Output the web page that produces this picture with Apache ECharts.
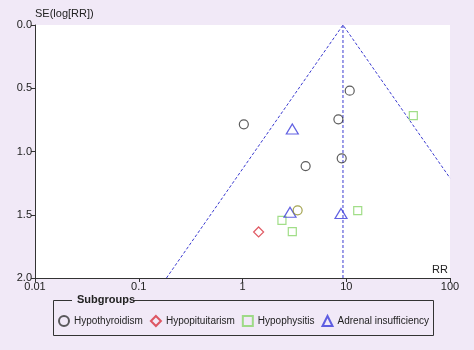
<!DOCTYPE html>
<html>
<head>
<meta charset="utf-8">
<script src="https://cdn.jsdelivr.net/npm/echarts@6/dist/echarts.min.js"></script>
<style>
html,body{margin:0;padding:0;background:#f1e9f7;}
#main{width:474px;height:350px;}
</style>
</head>
<body>
<div id="main"></div>
<script>
// x = RR (log scale), y = SE(log[RR])
var hypothyroidismRR = [1.03, 4.06, 10.8, 8.4, 9.04, 3.40];
var hypothyroidismSE = [0.785, 1.115, 0.519, 0.746, 1.054, 1.465];
var hypopituitarismRR = [1.43];
var hypopituitarismSE = [1.636];
var hypophysitisRR = [2.40, 3.02, 12.9, 44.3];
var hypophysitisSE = [1.544, 1.634, 1.468, 0.717];
var adrenalRR = [3.02, 2.87, 8.9];
var adrenalSE = [0.822, 1.48, 1.49];
// funnel (pseudo 95% limits) and pooled estimate line
var funnelRR = [0.185, 9.3, 100];
var funnelSE = [2.0, 0.0, 1.21];
var centerRR = [9.3, 9.3];
var centerSE = [0.0, 2.0];
var xTicks = ['0.01', '0.1', '1', '10', '100'];
var yTicks = ['0.0', '0.5', '1.0', '1.5', '2.0'];

function pairs(xs, ys) {
	var out = [];
	for (var i = 0; i < xs.length; i++) {
		out.push([xs[i], ys[i]]);
	}
	return out;
}

var font = 'Liberation Sans, Arial, sans-serif';
var dash = {color: '#3b3bd0', width: 1, type: [3, 2]};

var myChart = echarts.init(document.getElementById('main'));

var hypoData = pairs(hypothyroidismRR, hypothyroidismSE);
// the last circle sits on other marks and looks olive in the original
hypoData[5] = {value: hypoData[5], itemStyle: {borderColor: '#8c8c22'}};

var option = {
	backgroundColor: '#f1e9f7',
	animation: false,
	textStyle: {fontFamily: font},
	grid: {
		left: 35, top: 25, right: 24, bottom: 72,
		show: true, backgroundColor: '#fff', borderWidth: 0
	},
	xAxis: {
		type: 'log', logBase: 10, min: 0.01, max: 100, position: 'bottom',
		name: 'RR', nameLocation: 'end', nameGap: 0,
		nameTextStyle: {color: '#222', fontSize: 11, align: 'right', verticalAlign: 'bottom', padding: [0, 2, 3, 0]},
		axisLine: {onZero: false, lineStyle: {color: '#333', width: 1}},
		axisTick: {show: true, inside: false, length: 4, lineStyle: {color: '#333'}},
		minorTick: {show: false},
		splitLine: {show: false},
		axisLabel: {
			color: '#222', fontSize: 11, margin: 3,
			formatter: function (v) {
				var i = Math.round(Math.log(v) / Math.LN10) + 2;
				return xTicks[i];
			}
		}
	},
	yAxis: {
		type: 'value', inverse: true, min: 0, max: 2, interval: 0.5,
		name: 'SE(log[RR])', nameLocation: 'start', nameGap: 5,
		nameTextStyle: {color: '#222', fontSize: 11, align: 'left', padding: [0, 0, 0, 0]},
		axisLine: {show: true, onZero: false, lineStyle: {color: '#333', width: 1}},
		axisTick: {show: true, length: 4, lineStyle: {color: '#333'}},
		splitLine: {show: false},
		axisLabel: {
			color: '#222', fontSize: 11, margin: 3,
			formatter: function (v) { return yTicks[Math.round(v / 0.5)]; }
		}
	},
	legend: {
		left: 58, top: 315, padding: 0,
		itemWidth: 10, itemHeight: 10, itemGap: 7,
		textStyle: {color: '#222', fontSize: 10, padding: [0, 0, 0, 0]},
		data: ['Hypothyroidism', 'Hypopituitarism', 'Hypophysitis', 'Adrenal insufficiency']
	},
	graphic: [
		{type: 'rect', shape: {x: 53.5, y: 300.5, width: 380, height: 35},
			style: {fill: 'none', stroke: '#333', lineWidth: 1}, silent: true},
		{type: 'rect', shape: {x: 72, y: 295, width: 62, height: 12},
			style: {fill: '#f1e9f7'}, silent: true},
		{type: 'text', left: 77, top: 294,
			style: {text: 'Subgroups', font: 'bold 11px ' + font, fill: '#222'}, silent: true}
	],
	series: [
		{type: 'line', data: pairs(funnelRR, funnelSE), symbol: 'none', lineStyle: dash, silent: true, z: 1},
		{type: 'line', data: pairs(centerRR, centerSE), symbol: 'none', lineStyle: dash, silent: true, z: 1},
		{
			name: 'Hypothyroidism', type: 'scatter', symbol: 'circle', symbolSize: 9,
			itemStyle: {color: 'rgba(255,255,255,0)', borderColor: '#333', borderWidth: 1.2},
			data: hypoData, z: 5
		},
		{
			name: 'Hypopituitarism', type: 'scatter', symbol: 'diamond', symbolSize: 10,
			itemStyle: {color: 'rgba(255,255,255,0)', borderColor: '#d8313d', borderWidth: 1.2},
			data: pairs(hypopituitarismRR, hypopituitarismSE)
		},
		{
			name: 'Hypophysitis', type: 'scatter', symbol: 'rect', symbolSize: 8,
			itemStyle: {color: 'rgba(255,255,255,0)', borderColor: '#8ad66a', borderWidth: 1.2},
			data: pairs(hypophysitisRR, hypophysitisSE)
		},
		{
			name: 'Adrenal insufficiency', type: 'scatter', symbol: 'triangle', symbolSize: [12, 10],
			itemStyle: {color: 'rgba(255,255,255,0)', borderColor: '#3a3adb', borderWidth: 1.2},
			data: pairs(adrenalRR, adrenalSE)
		}
	]
};

if (option && typeof option === 'object') {
	myChart.setOption(option, true);
}
</script>
</body>
</html>
